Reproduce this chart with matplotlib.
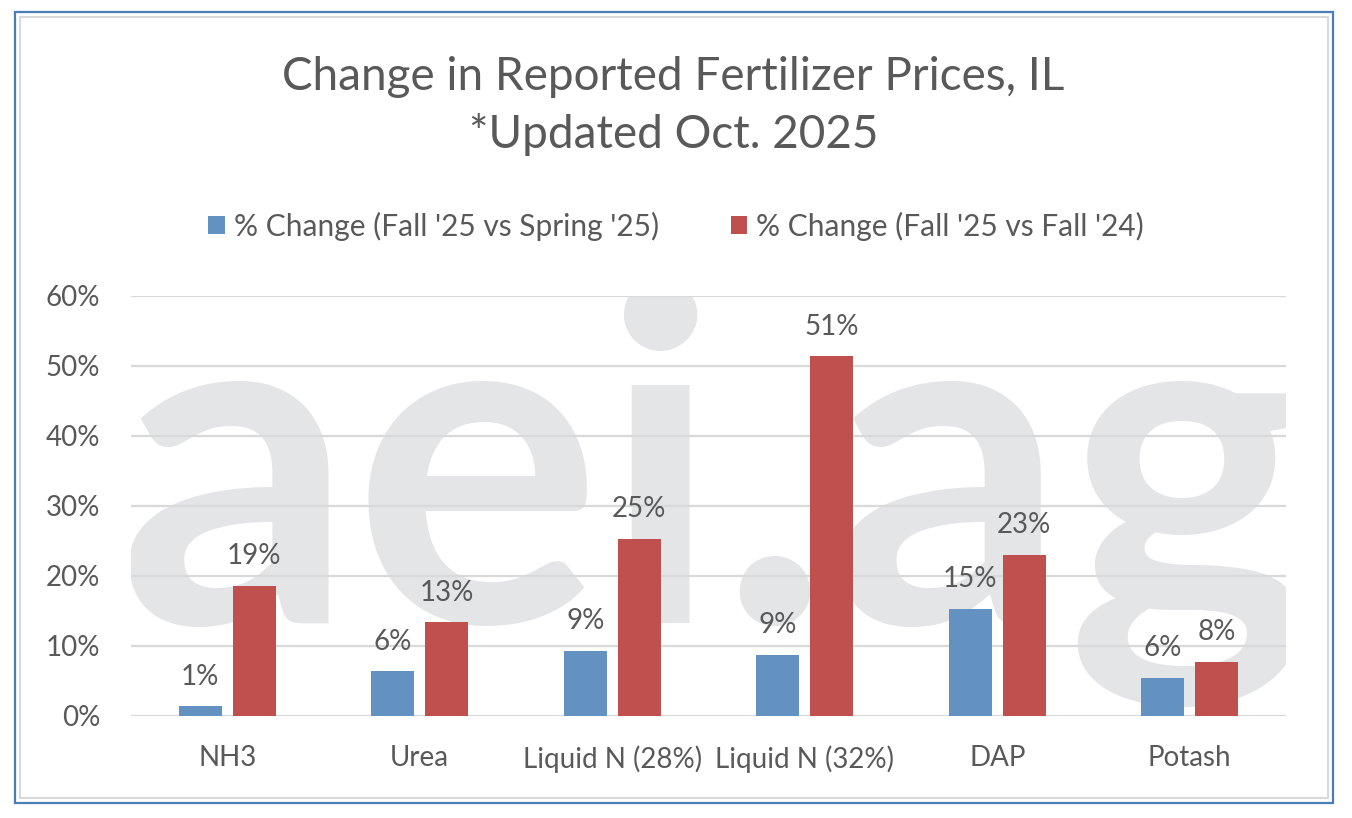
import numpy as np
import matplotlib
matplotlib.use("Agg")
import matplotlib.pyplot as plt
from matplotlib.patches import Rectangle

# data
categories = ["NH3", "Urea", "Liquid N (28%)", "Liquid N (32%)", "DAP", "Potash"]
chg_spring = [1.4, 6.4, 9.3, 8.7, 15.3, 5.5]    # Fall '25 vs Spring '25
chg_fall = [18.6, 13.4, 25.3, 51.4, 23.0, 7.7]  # Fall '25 vs Fall '24
yticks = [0, 10, 20, 30, 40, 50, 60]

plt.rcParams['font.family'] = ['Lato', 'DejaVu Sans']
txt = '#595959'
blue = '#6391c2'
red = '#c0504d'
wm = '#e4e5e7'

fig = plt.figure(figsize=(13.52, 8.18), dpi=100)
ax = fig.add_axes([131/1352, 1 - 716/818, (1286-131)/1352, (716-296)/818])
ax.patch.set_alpha(0)

# outer frame
fig.patches.append(Rectangle((15/1352, 1 - 803/818), 1318/1352, 791/818,
                             transform=fig.transFigure, fill=False,
                             edgecolor='#4a7ebb', lw=1.6))
fig.patches.append(Rectangle((20/1352, 1 - 798/818), 1308/1352, 781/818,
                             transform=fig.transFigure, fill=False,
                             edgecolor='#d9d9d9', lw=1.5))

# watermark
ax.text(-0.012, 0.221, "aei.ag", transform=ax.transAxes, ha='left',
        va='baseline', fontsize=335, fontweight='bold', color=wm, zorder=0,
        family='Lato', clip_on=True)

x = np.arange(len(categories))
w = 0.225
b1 = ax.bar(x - w/2 - 0.028, chg_spring, w, color=blue, zorder=3,
            label="% Change (Fall '25 vs Spring '25)")
b2 = ax.bar(x + w/2 + 0.028, chg_fall, w, color=red, zorder=3,
            label="% Change (Fall '25 vs Fall '24)")
for bars in (b1, b2):
    ax.bar_label(bars, labels=['%.0f%%' % v for v in bars.datavalues],
                 padding=12, fontsize=20, color=txt)

ax.set_xlim(-0.5, len(categories) - 0.5)
ax.set_ylim(0, 60)
ax.set_yticks(yticks)
ax.set_yticklabels(['%d%%' % t for t in yticks], fontsize=20, color=txt)
ax.set_xticks(x)
ax.set_xticklabels(categories, fontsize=20, color=txt)
ax.tick_params(length=0)
ax.tick_params(axis='y', pad=22)
ax.tick_params(axis='x', pad=21)
ax.grid(axis='y', color='#d9d9d9', lw=1.6, zorder=1)
for s in ax.spines.values():
    s.set_visible(False)
for gl in ax.get_ygridlines():
    gl.set_zorder(1)

fig.text(0.498, 1 - 77/818, "Change in Reported Fertilizer Prices, IL",
         ha='center', va='center', fontsize=33, color=txt)
fig.text(0.498, 1 - 135/818, "*Updated Oct. 2025",
         ha='center', va='center', fontsize=33, color=txt)

fig.legend(handles=[b1, b2], loc='center', bbox_to_anchor=(0.50, 1 - 226/818),
           ncol=2, frameon=False, fontsize=21.5, labelcolor=txt,
           handlelength=0.55, handleheight=0.55, handletextpad=0.3,
           columnspacing=2.4)

fig.savefig("out.png", dpi=100)
